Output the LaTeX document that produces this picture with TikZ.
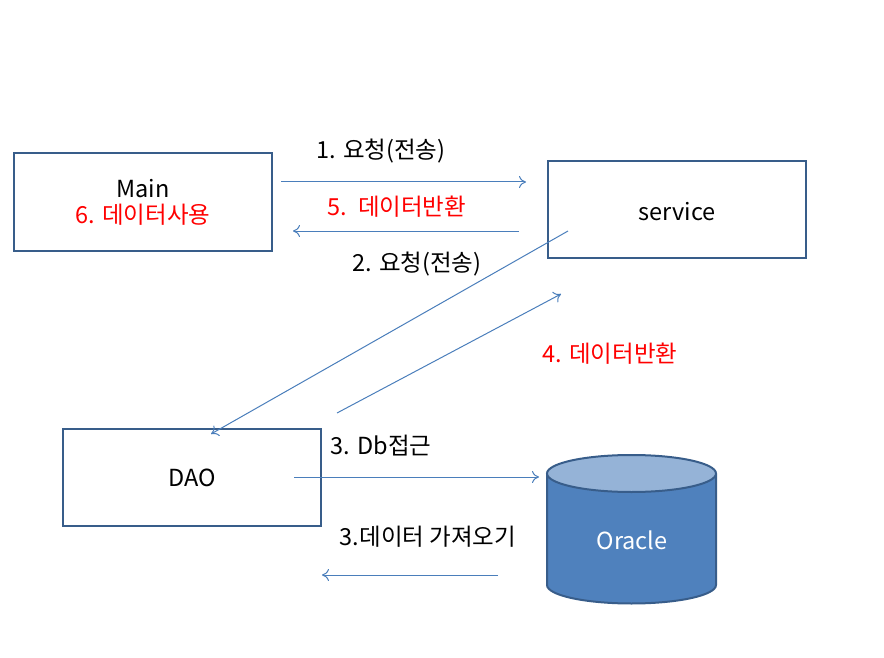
\documentclass[tikz,border=0pt]{standalone}
\usepackage{fontspec}
\setmainfont{Noto Sans CJK KR}
\usetikzlibrary{arrows.meta,shapes.geometric}
\definecolor{boxline}{HTML}{385D8A}
\definecolor{arrowline}{HTML}{4A7EBB}
\definecolor{cylfill}{HTML}{4F81BD}
\definecolor{cyltop}{HTML}{95B3D7}
\definecolor{txtred}{HTML}{FF0000}
\tikzset{
  box/.style={draw=boxline,line width=2pt,minimum width=258pt,minimum height=97pt,inner sep=0pt},
  flow/.style={draw=arrowline,line width=1pt,-{To[length=7pt,width=12pt]}},
  lbl/.style={font=\fontsize{23.5}{27}\selectfont,inner sep=0pt,text=black},
  redlbl/.style={lbl,text=txtred},
}
\begin{document}
\begin{tikzpicture}[x=1pt,y=-1pt]
\useasboundingbox (0,0) rectangle (884,658);
% boxes
\node[box] (main) at (143,202) {};
\node[box] (service) at (677,209.5) {};
\node[box] (dao) at (192,477) {};
\node[lbl] (maintxt) at (143,189) {Main};
\node[redlbl] (mainred) at (143,215) {6. 데이터사용};
\node[lbl] (servicetxt) at (677,212) {service};
\node[lbl] (daotxt) at (192,478) {DAO};
% cylinder
\fill[cylfill] (547,473.5) -- (547,585) arc[start angle=180,end angle=0,x radius=84.5,y radius=18.5] -- (716,473.5) -- cycle;
\draw[boxline,line width=2pt] (547,473.5) -- (547,585) arc[start angle=180,end angle=0,x radius=84.5,y radius=18.5] -- (716,473.5);
\draw[boxline,line width=2pt,fill=cyltop] (631.5,473.5) ellipse[x radius=84.5,y radius=18.5];
\node[lbl,text=white] (oracle) at (632,540) {Oracle};
% connector end points
\coordinate (a1s) at (281,182); \coordinate (a1e) at (526,182);
\coordinate (a5s) at (519,231); \coordinate (a5e) at (293,231);
\coordinate (a2s) at (568,231); \coordinate (a2e) at (211,434);
\coordinate (a4s) at (337,413); \coordinate (a4e) at (561,294);
\coordinate (a3s) at (294,477); \coordinate (a3e) at (539,477);
\coordinate (a6s) at (498,575); \coordinate (a6e) at (322,575);
\draw[flow] (a1s) -- (a1e);
\draw[flow] (a5s) -- (a5e);
\draw[flow] (a2s) -- (a2e);
\draw[flow] (a4s) -- (a4e);
\draw[flow] (a3s) -- (a3e);
\draw[flow] (a6s) -- (a6e);
% labels
\node[lbl] (l1) at (381,151) {1. 요청(전송)};
\node[redlbl] (l5) at (397,207) {5.\ \ 데이터반환};
\node[lbl] (l2) at (417,264) {2. 요청(전송)};
\node[redlbl] (l4) at (610,354) {4. 데이터반환};
\node[lbl] (l3) at (381,446) {3. Db접근};
\node[lbl] (l6) at (428,537) {3.데이터 가져오기};
\end{tikzpicture}
\end{document}
